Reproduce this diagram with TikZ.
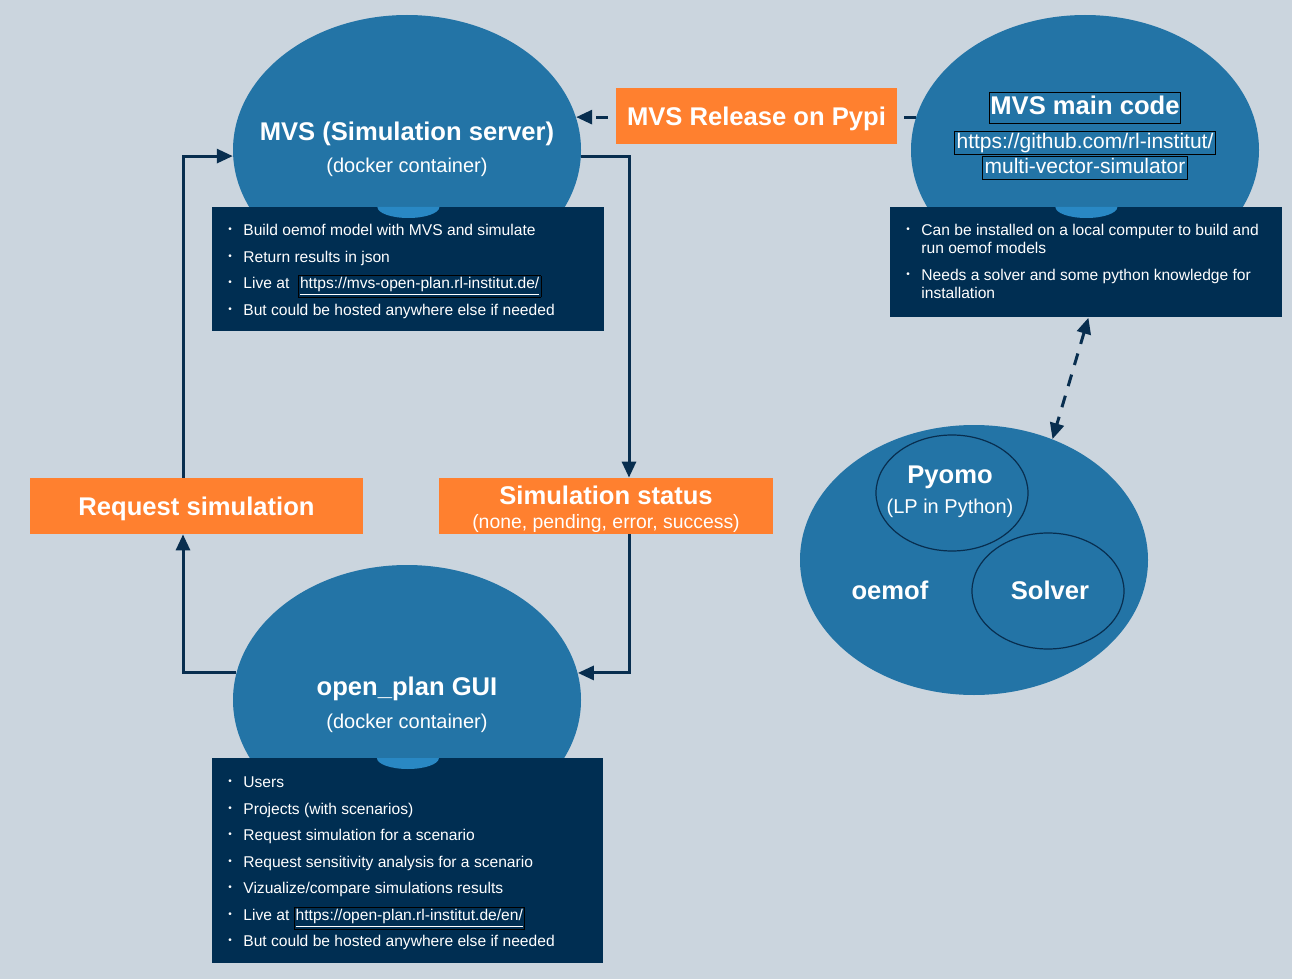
\documentclass[tikz,border=0pt]{standalone}
\usepackage{fontspec}
\setmainfont{Liberation Sans}
\usepackage{tikz}
\usetikzlibrary{positioning,shapes.geometric,arrows.meta}

\definecolor{bgGrey}{RGB}{203,213,222}
\definecolor{ellBlue}{RGB}{35,116,166}
\definecolor{boxNavy}{RGB}{0,46,82}
\definecolor{tagOrange}{RGB}{255,128,47}
\definecolor{hiBlue}{RGB}{41,136,196}
\definecolor{lineNavy}{RGB}{8,46,79}

\newcommand{\weblink}[1]{{\setlength{\fboxsep}{0.6pt}\setlength{\fboxrule}{0.4pt}\fcolorbox{black}{boxNavy}{\underline{#1}}}}

\tikzset{
  blob/.style={ellipse, fill=ellBlue, minimum width=174pt, minimum height=135pt, inner sep=0},
  subblob/.style={ellipse, draw=lineNavy, line width=0.6pt, minimum width=76pt, minimum height=58pt, inner sep=0},
  infobox/.style={fill=boxNavy, anchor=north west, inner sep=0},
  tag/.style={fill=tagOrange, inner sep=0, minimum height=28pt},
  title/.style={text=white, font=\bfseries\fontsize{12.8}{15}\selectfont, inner sep=0, text height=9.2pt, text depth=0pt},
  subtitle/.style={text=white, font=\fontsize{10}{12}\selectfont, inner sep=0, text height=7.2pt, text depth=0pt},
  url/.style={text=white, font=\fontsize{10.5}{12}\selectfont, draw=black, line width=0.5pt, inner xsep=1pt, inner ysep=0.5pt, text height=7.8pt, text depth=2.4pt},
  item/.style={text=white, font=\fontsize{7.8}{9}\selectfont, anchor=west, inner sep=0, text height=5.6pt, text depth=0pt},
  bul/.style={text=white, font=\fontsize{5}{6}\selectfont, inner sep=0},
  flow/.style={draw=lineNavy, line width=1.5pt, -{Triangle[length=8pt,width=7pt]}},
  link/.style={flow, dash pattern=on 6pt off 5pt},
}

\begin{document}
\begin{tikzpicture}[x=0.5pt,y=-0.5pt]
\fill[bgGrey] (0,0) rectangle (1292,979);
\useasboundingbox (0,0) rectangle (1292,979);

% Ellipses
\node[blob] (mvs) at (407,150) {};
\node[blob] (code) at (1085,150) {};
\node[blob] (gui) at (407,700) {};
\node[blob] (oemof) at (974,560) {};
\node[subblob] (pyomo) at (952,493) {};
\node[subblob] (solver) at (1048,591) {};

% Info boxes with their highlight
\node[infobox, minimum width=196pt, minimum height=62pt] (srvbox) at (212,207) {};
\node[infobox, minimum width=196pt, minimum height=55pt] (codebox) at (890,207) {};
\node[infobox, minimum width=195.5pt, minimum height=102.5pt] (guibox) at (212,758) {};
\foreach \b in {srvbox,codebox,guibox} {
    \fill[hiBlue] ([xshift=-15.5pt]\b.north) arc[start angle=180, end angle=360, x radius=15.5pt, y radius=5.5pt];
}

% Titles
\node[title] (mvstitle) at (407,131) {MVS (Simulation server)};
\node[subtitle, below=8.8pt of mvstitle] (mvssub) {(docker container)};
\node[title] (guititle) at (407,686) {open\_plan GUI};
\node[subtitle, below=8.8pt of guititle] (guisub) {(docker container)};
\node[title, draw=black, line width=0.5pt, inner xsep=0.5pt, inner ysep=1.5pt, text height=9.5pt, text depth=3pt] (codetitle) at (1085,108.5) {MVS main code};
\node[url, below=3.4pt of codetitle] (url1) {https://github.com/rl-institut/};
\node[url, below=0.8pt of url1] (url2) {multi-vector-simulator};
\node[title] (pyomotitle) at (950,474) {Pyomo};
\node[subtitle, below=7.4pt of pyomotitle] (pyomosub) {(LP in Python)};
\node[title] (solvertitle) at (1050,590) {Solver};
\node[title] (oemoftitle) at (890,590) {oemof};

% Box contents
\foreach \i/\y/\txt in {1/230/Build oemof model with MVS and simulate,
                        2/257/Return results in json,
                        3/283/{Live at \ \weblink{https://mvs-open-plan.rl-institut.de/}},
                        4/310/But could be hosted anywhere else if needed} {
    \node[bul] (srvdot\i) at (230,\y) {\textbullet};
    \node[item] (srv\i) at (243,\y) {\txt};
}
\node[bul] (codedot1) at (908,230) {\textbullet};
\node[item] (code1) at (921,230) {Can be installed on a local computer to build and};
\node[item] (code2) at (921,248) {run oemof models};
\node[bul] (codedot3) at (908,275) {\textbullet};
\node[item] (code3) at (921,275) {Needs a solver and some python knowledge for};
\node[item] (code4) at (921,293) {installation};
\foreach \i/\y/\txt in {1/782/Users,
                        2/809/Projects (with scenarios),
                        3/835/Request simulation for a scenario,
                        4/862/Request sensitivity analysis for a scenario,
                        5/888/{Vizualize/compare simulations results},
                        6/915/{Live at \weblink{https://open-plan.rl-institut.de/en/}},
                        7/941/But could be hosted anywhere else if needed} {
    \node[bul] (guidot\i) at (230,\y) {\textbullet};
    \node[item] (gui\i) at (243,\y) {\txt};
}

% Release link (drawn below the tag)
\draw[link] (code.169) -- (mvs.11);
\draw[link, {Triangle[length=8pt,width=7pt]}-{Triangle[length=8pt,width=7pt]}] ([xshift=1pt]codebox.south) -- (oemof.57);

% Tags
\node[tag, minimum width=140.5pt] (pypi) at (756.5,116) {};
\node[title] (pypititle) at (pypi) {MVS Release on Pypi};
\node[tag, minimum width=166.5pt] (request) at (196.5,506) {};
\node[title] (requesttitle) at (request) {Request simulation};
\node[tag, minimum width=167pt] (status) at (606,506) {};
\node[title] (statustitle) at (606,495) {Simulation status};
\node[subtitle, font=\fontsize{9.7}{11}\selectfont, text height=7pt, below=4.9pt of statustitle] (statussub) {(none, pending, error, success)};

% Simulation loop
\draw[flow] (mvs.358) -| ([xshift=11.5pt]status.north);
\draw[flow] ([xshift=11.5pt]status.south) |- (gui.9);
\draw[flow] (gui.171) -| ([xshift=-6.75pt]request.south);
\draw[flow] ([xshift=-6.75pt]request.north) |- (mvs.182);
\end{tikzpicture}
\end{document}
